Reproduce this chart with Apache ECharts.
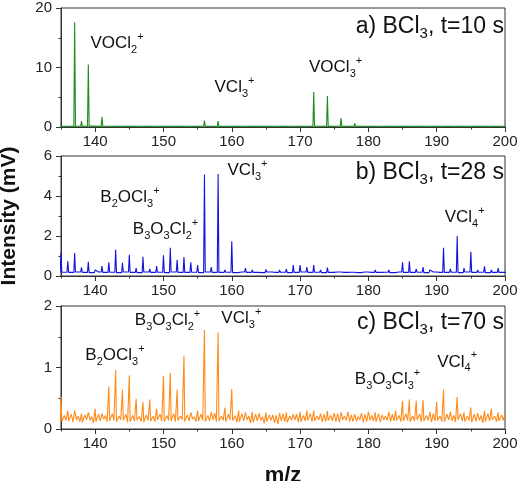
<!DOCTYPE html>
<html><head><meta charset="utf-8">
<script src="https://cdn.jsdelivr.net/npm/echarts@6/dist/echarts.min.js"></script>
<style>html,body{margin:0;padding:0;background:#fff}#c{width:520px;height:481px}</style>
</head><body><div id="c"></div>
<script>
// m/z of first point; integer m/z values 135..200; "fill" arrays hold the baseline
// between integers (k values per unit, evenly spaced)
const mzStart = 135;
const xTickLabels = [140, 150, 160, 170, 180, 190, 200];

// panel a) BCl3, t=10 s
const aInt = [
  0.2,0.4,17.6,1.0,10.5,0.3,1.7,0.2,0.2,0.2,
  0.2,0.3,0.3,0.2,0.2,0.2,0.2,0.2,0.3,0.2,
  0.2,1.1,0.2,1.0,0.2,0.4,0.2,0.2,0.2,0.2,
  0.2,0.2,0.2,0.2,0.2,0.2,0.2,5.9,0.3,5.2,
  0.2,1.5,0.2,0.6,0.2,0.2,0.2,0.2,0.2,0.2,
  0.2,0.2,0.2,0.2,0.2,0.2,0.2,0.2,0.4,0.2,
  0.3,0.2,0.3,0.2,0.2,0.2];
const aFill = [
  0.12,0.10,0.12,0.10,0.14,0.10,0.12,0.10,0.12,0.11,
  0.10,0.12,0.10,0.13,0.10,0.12,0.10,0.11,0.12,0.10,
  0.12,0.10,0.12,0.10,0.13,0.10,0.12,0.10,0.11,0.12,
  0.10,0.12,0.10,0.12,0.10,0.13,0.10,0.12,0.10,0.11,
  0.12,0.10,0.12,0.10,0.12,0.10,0.13,0.10,0.12,0.10,
  0.11,0.12,0.10,0.12,0.10,0.12,0.10,0.13,0.10,0.12,
  0.10,0.11,0.12,0.10,0.12];

// panel b) BCl3, t=28 s
const bInt = [
  1.18,0.73,1.15,0.43,0.71,0.3,0.5,0.68,1.31,0.66,
  1.06,0.4,0.96,0.35,0.5,1.03,1.41,0.81,0.95,0.68,
  0.55,5.08,0.45,5.1,0.3,1.74,0.25,0.4,0.3,0.25,
  0.33,0.25,0.3,0.35,0.55,0.55,0.45,0.55,0.3,0.42,
  0.25,0.3,0.25,0.25,0.25,0.25,0.3,0.25,0.3,0.25,
  0.68,0.73,0.35,0.45,0.3,0.3,1.41,0.35,2.0,0.4,
  1.21,0.3,0.48,0.3,0.4,0.25];
const bFill = [
  0.19,0.18,0.20,0.18,0.17,0.20,0.18,0.19,0.17,0.20,
  0.18,0.17,0.20,0.18,0.19,0.17,0.20,0.18,0.18,0.19,
  0.17,0.20,0.18,0.18,0.19,0.17,0.20,0.18,0.18,0.17,
  0.20,0.18,0.19,0.17,0.18,0.20,0.18,0.19,0.17,0.18,
  0.20,0.18,0.19,0.17,0.20,0.18,0.18,0.19,0.17,0.20,
  0.18,0.18,0.19,0.17,0.20,0.18,0.18,0.19,0.17,0.20,
  0.18,0.19,0.17,0.18,0.18];

// panel c) BCl3, t=70 s
const cInt = [
  0.53,0.3,0.3,0.25,0.27,0.33,0.25,0.69,0.96,0.64,
  0.87,0.49,0.44,0.48,0.33,0.86,0.91,0.64,1.19,0.27,
  0.3,1.61,0.28,1.57,0.35,0.65,0.3,0.27,0.28,0.26,
  0.27,0.23,0.26,0.27,0.24,0.28,0.3,0.3,0.25,0.29,
  0.26,0.27,0.28,0.24,0.26,0.28,0.27,0.23,0.28,0.3,
  0.46,0.48,0.46,0.47,0.28,0.44,0.64,0.28,0.52,0.27,
  0.35,0.26,0.3,0.33,0.27,0.25];
// three values per unit at m+0.25, m+0.5, m+0.75 (135 .. 199)
const cFill = [
  .12,.22,.14, .13,.24,.11, .15,.21,.12, .11,.23,.15, .14,.20,.10,
  .12,.24,.13, .16,.22,.12, .13,.25,.14, .12,.21,.15, .14,.24,.11,
  .12,.22,.13, .15,.20,.12, .11,.23,.14, .13,.21,.12, .15,.24,.13,
  .12,.22,.14, .13,.25,.12, .14,.21,.15, .12,.23,.13, .16,.20,.12,
  .13,.24,.14, .12,.22,.13, .15,.26,.12, .13,.21,.14, .12,.24,.15,
  .14,.22,.11, .12,.25,.13, .15,.21,.10, .11,.24,.13, .14,.20,.09,
  .12,.23,.14, .10,.22,.08, .13,.25,.12, .11,.21,.14, .15,.24,.11,
  .12,.22,.13, .14,.25,.12, .13,.21,.15, .11,.24,.12, .14,.22,.13,
  .12,.25,.11, .15,.21,.14, .12,.23,.12, .13,.20,.15, .11,.24,.12,
  .14,.22,.13, .12,.25,.11, .15,.21,.14, .12,.24,.13, .14,.22,.12,
  .13,.25,.14, .12,.21,.13, .15,.24,.12, .13,.22,.14, .11,.25,.13,
  .14,.21,.12, .12,.24,.15, .13,.22,.11, .15,.25,.13, .12,.21,.14,
  .11,.24,.12, .14,.22,.10, .12,.25,.13, .15,.21,.12, .13,.23,.14];

const panelTitles = ['{n|a) BCl}{s|3}{n|, t=10 s}', '{n|b) BCl}{s|3}{n|, t=28 s}', '{n|c) BCl}{s|3}{n|, t=70 s}'];

// peak annotations [text, m/z, intensity] (anchor = label centre in data coords)
const aNotes = [
  ['{n|VOCl}{s|2}{p|+}', 143.2, 14.0],
  ['{n|VCl}{s|3}{p|+}', 160.4, 6.6],
  ['{n|VOCl}{s|3}{p|+}', 175.2, 10.0]
];
const bNotes = [
  ['{n|VCl}{s|3}{p|+}', 162.3, 5.3],
  ['{n|B}{s|2}{n|OCl}{s|3}{p|+}', 145.1, 3.95],
  ['{n|B}{s|3}{n|O}{s|3}{n|Cl}{s|2}{p|+}', 150.3, 2.35],
  ['{n|VCl}{s|4}{p|+}', 194.1, 2.95]
];
const cNotes = [
  ['{n|B}{s|3}{n|O}{s|3}{n|Cl}{s|2}{p|+}', 150.6, 1.77],
  ['{n|VCl}{s|3}{p|+}', 161.4, 1.8],
  ['{n|B}{s|2}{n|OCl}{s|3}{p|+}', 142.9, 1.2],
  ['{n|VCl}{s|4}{p|+}', 193.0, 1.09],
  ['{n|B}{s|3}{n|O}{s|3}{n|Cl}{s|3}{p|+}', 182.8, 0.8]
];

function build(ints, fill, k, ratio) {
  const pts = [];
  for (let i = 0; i < ints.length; i++) {
    const m = mzStart + i, v = ints[i];
    const bl = i > 0 ? fill[(i - 1) * k + k - 1] : fill[0];
    const br = i * k < fill.length ? fill[i * k] : fill[fill.length - 1];
    if (v > ratio * Math.max(bl, br)) {
      pts.push([m - 0.12, bl], [m, v], [m + 0.12, br]);
    } else {
      pts.push([m, v]);
    }
    if (i < ints.length - 1) {
      for (let j = 0; j < k; j++) pts.push([m + (j + 1) / (k + 1), fill[i * k + j]]);
    }
  }
  return pts;
}

const FONT = '"Liberation Sans", Arial, sans-serif';
const TXT = '#111';
const AX = '#333';
const richLab = {
  n: {fontSize: 17, fontFamily: FONT, fontWeight: 'normal', color: TXT, lineHeight: 24},
  s: {fontSize: 11, fontFamily: FONT, fontWeight: 'normal', color: TXT, verticalAlign: 'bottom', lineHeight: 24},
  p: {fontSize: 11, fontFamily: FONT, fontWeight: 'normal', color: TXT, verticalAlign: 'top', lineHeight: 24}
};
const richTitle = {
  n: {fontSize: 23, fontFamily: FONT, fontWeight: 'normal', color: TXT, lineHeight: 29},
  s: {fontSize: 15, fontFamily: FONT, fontWeight: 'normal', color: TXT, verticalAlign: 'bottom', lineHeight: 29}
};

const grids = [
  {left: 61, right: 15, top: 8, height: 119},
  {left: 61, right: 15, top: 156, height: 120},
  {left: 61, right: 15, top: 306, height: 123}
].map(g => Object.assign(g, {show: true, borderColor: AX, borderWidth: 1, backgroundColor: 'transparent',
  containLabel: false, outerBoundsMode: 'none'}));

const yRanges = [[0, 20, 10], [0, 6, 2], [0, 2, 1]];

const xAxes = [];
for (let i = 0; i < 3; i++) {
  xAxes.push({
    gridIndex: i, type: 'value', position: 'bottom', min: 135, max: 200, interval: 5,
    axisLine: {show: true, onZero: false, lineStyle: {color: AX, width: 1}},
    axisTick: {show: true, length: 2.5, lineStyle: {color: AX}},
    axisLabel: {show: true, fontSize: 15, fontFamily: FONT, color: '#222', margin: 7,
      formatter: v => (xTickLabels.indexOf(v) >= 0 ? String(v) : '')},
    splitLine: {show: false},
    name: i === 2 ? 'm/z' : '', nameLocation: 'middle', nameGap: 36,
    nameTextStyle: {fontSize: 22, fontWeight: 'bold', fontFamily: FONT, color: TXT}
  });
}
for (let i = 0; i < 3; i++) {
  xAxes.push({
    gridIndex: i, type: 'value', position: 'bottom', min: 135, max: 200,
    axisLine: {show: false, onZero: false},
    axisTick: {show: true, length: 5, lineStyle: {color: AX}, customValues: xTickLabels},
    axisLabel: {show: false},
    splitLine: {show: false}
  });
}

const yAxes = yRanges.map((r, i) => ({
  gridIndex: i, type: 'value', min: r[0], max: r[1], interval: r[2],
  axisLine: {show: true, lineStyle: {color: AX, width: 1}},
  axisTick: {show: true, length: 5, lineStyle: {color: AX}},
  minorTick: {show: true, splitNumber: 2, length: 2.5, lineStyle: {color: AX}},
  axisLabel: {fontSize: 15, fontFamily: FONT, color: '#222', margin: 9},
  splitLine: {show: false}, minorSplitLine: {show: false},
  name: i === 1 ? 'Intensity (mV)' : '', nameLocation: 'middle', nameGap: 41,
  nameTextStyle: {fontSize: 21, fontWeight: 'bold', fontFamily: FONT, color: TXT}
}));

function notes(list) {
  return {
    symbol: 'circle', symbolSize: 1, silent: true, animation: false,
    itemStyle: {color: 'rgba(0,0,0,0)'},
    label: {show: true, position: 'inside', rich: richLab},
    data: list.map(n => ({coord: [n[1], n[2]], label: {formatter: n[0]}}))
  };
}

const seriesDefs = [
  {data: build(aInt, aFill, 1, 1.5), color: '#1e8c1e', notes: aNotes},
  {data: build(bInt, bFill, 1, 1.2), color: '#1414dc', notes: bNotes},
  {data: build(cInt, cFill, 3, 2.0), color: '#ff8c1a', notes: cNotes}
];

const option = {
  animation: false,
  backgroundColor: '#fff',
  textStyle: {fontFamily: FONT},
  title: panelTitles.map((t, i) => ({
    text: t, right: 16, top: [12, 158, 308][i], padding: 0,
    textStyle: {fontWeight: 'normal', rich: richTitle}
  })),
  grid: grids,
  xAxis: xAxes,
  yAxis: yAxes,
  series: seriesDefs.map((s, i) => ({
    type: 'line', xAxisIndex: i, yAxisIndex: i, data: s.data,
    showSymbol: false, symbol: 'none', sampling: null,
    lineStyle: {color: s.color, width: 1.1}, itemStyle: {color: s.color},
    markPoint: notes(s.notes)
  }))
};

const chart = echarts.init(document.getElementById('c'), null, {renderer: 'canvas'});
chart.setOption(option);
</script></body></html>
